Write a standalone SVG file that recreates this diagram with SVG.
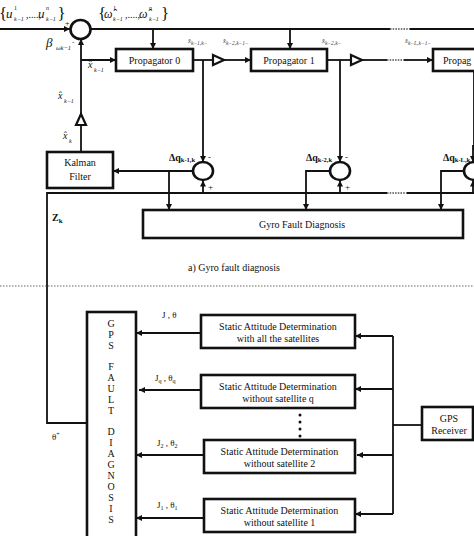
<svg xmlns="http://www.w3.org/2000/svg" width="474" height="536" viewBox="0 0 474 536">
<style>
text{font-family:"Liberation Serif","Times New Roman",serif;fill:#111}
.box{fill:#fff;stroke:#111;stroke-width:2.6}
.ln{fill:none;stroke:#111;stroke-width:1.8}
.arr{fill:none;stroke:#111;stroke-width:1.8;marker-end:url(#ah)}
.dot{fill:none;stroke:#777;stroke-width:1.8;stroke-dasharray:1.5,1.2}
.tri{fill:#fff;stroke:#111;stroke-width:2.2}
.lbl{font-size:10px;text-anchor:middle}
.mi{font-style:italic}
.sm{font-size:6px}
.tiny{font-size:6.5px;fill:#444}
.b{font-weight:bold}
</style>
<defs>
<marker id="ah" viewBox="0 0 10 10" refX="10" refY="5" markerWidth="7" markerHeight="6" markerUnits="userSpaceOnUse" orient="auto">
<path d="M0,0L10,5L0,10z" fill="#111"/>
</marker>
</defs>

<g id="connectors">
<line class="arr" x1="0" y1="29" x2="70" y2="29"/>
<line class="ln" x1="90" y1="29" x2="390" y2="29"/>
<line class="dot" x1="390" y1="29" x2="410" y2="29"/>
<line class="ln" x1="410" y1="29" x2="474" y2="29"/>
<line class="arr" x1="153" y1="29" x2="153" y2="49"/>
<line class="arr" x1="290" y1="29" x2="290" y2="49"/>
<line class="ln" x1="193" y1="60" x2="213" y2="60"/>
<line class="arr" x1="224" y1="60" x2="251" y2="60"/>
<line class="arr" x1="203" y1="60" x2="203" y2="162"/>
<line class="ln" x1="327" y1="60" x2="351" y2="60"/>
<line class="ln" x1="362" y1="60" x2="387" y2="60"/>
<line class="dot" x1="387" y1="60" x2="404" y2="60"/>
<line class="arr" x1="404" y1="60" x2="433" y2="60"/>
<line class="arr" x1="340" y1="60" x2="340" y2="162"/>
<line class="ln" x1="474" y1="71" x2="474" y2="150"/>
<line class="arr" x1="473" y1="145" x2="473" y2="162"/>
<line class="ln" x1="81" y1="152" x2="81" y2="125"/>
<line class="arr" x1="81" y1="114" x2="81" y2="39"/>
<line class="arr" x1="81" y1="60" x2="116" y2="60"/>
<line class="arr" x1="193" y1="171" x2="113" y2="171"/>
<line class="arr" x1="169" y1="171" x2="169" y2="210"/>
<polyline class="arr" points="330,171 306,171 306,210"/>
<polyline class="arr" points="463,171 441,171 441,210"/>
<polyline class="ln" points="87,423 47,423 47,193 387,193"/>
<line class="dot" x1="387" y1="193" x2="407" y2="193"/>
<line class="ln" x1="407" y1="193" x2="474" y2="193"/>
<line class="arr" x1="203" y1="193" x2="203" y2="180.5"/>
<line class="arr" x1="340" y1="193" x2="340" y2="180.5"/>
<line class="arr" x1="473" y1="193" x2="473" y2="180.5"/>
<line class="arr" x1="201" y1="333" x2="136" y2="333"/>
<line class="arr" x1="201" y1="390" x2="139" y2="390"/>
<line class="arr" x1="204" y1="455" x2="136" y2="455"/>
<line class="arr" x1="204" y1="518" x2="136" y2="518"/>
<line class="ln" x1="422" y1="425" x2="393" y2="425"/>
<line class="ln" x1="393" y1="336" x2="393" y2="514"/>
<line class="arr" x1="393" y1="336" x2="355" y2="336"/>
<line class="arr" x1="393" y1="389" x2="355" y2="389"/>
<line class="arr" x1="393" y1="455" x2="357" y2="455"/>
<line class="arr" x1="393" y1="514" x2="355" y2="514"/>
<polygon class="tri" points="213,55 224,60 213,65"/>
<polygon class="tri" points="351,55 362,60 351,65"/>
<polygon class="tri" points="76,125 81,114 86,125"/>
<line x1="0" y1="286" x2="474" y2="286" stroke="#666" stroke-width="1.2" stroke-dasharray="1.5,1.5"/>
</g>

<g id="sum0"><ellipse class="box" cx="80.5" cy="29.5" rx="10" ry="9.5"/><text x="65" y="26" font-size="8">+</text></g>
<g id="sum1"><ellipse class="box" cx="203" cy="171" rx="10" ry="9"/><text x="208" y="160" font-size="9">-</text><text x="208" y="190" font-size="9">+</text></g>
<g id="sum2"><ellipse class="box" cx="340" cy="171" rx="10" ry="9"/><text x="345" y="160" font-size="9">-</text><text x="345" y="190" font-size="9">+</text></g>
<g id="sum3"><ellipse class="box" cx="474" cy="171" rx="10" ry="9"/></g>

<g id="prop0"><rect class="box" x="116" y="49" width="77" height="22"/><text class="lbl" x="154.5" y="64">Propagator 0</text></g>
<g id="prop1"><rect class="box" x="251" y="49" width="76" height="22"/><text class="lbl" x="289" y="64">Propagator 1</text></g>
<g id="prop2"><rect class="box" x="433" y="49" width="60" height="22"/><text x="443" y="64" font-size="10">Propag</text></g>
<g id="kalman"><rect class="box" x="47" y="152" width="66" height="36"/><text class="lbl" x="80" y="166">Kalman</text><text class="lbl" x="80" y="180">Filter</text></g>
<g id="gyrofd"><rect class="box" x="143" y="210" width="320" height="28"/><text class="lbl" x="302" y="228">Gyro Fault Diagnosis</text></g>

<g id="gpsfd"><rect class="box" x="87" y="312" width="49" height="240"/>
<g font-size="10" text-anchor="middle">
<text x="111" y="327">G</text><text x="111" y="338">P</text><text x="111" y="349">S</text>
<text x="111" y="370">F</text><text x="111" y="381">A</text><text x="111" y="392">U</text><text x="111" y="403">L</text><text x="111" y="414">T</text>
<text x="111" y="435">D</text><text x="111" y="446">I</text><text x="111" y="457">A</text><text x="111" y="468">G</text><text x="111" y="479">N</text><text x="111" y="490">O</text><text x="111" y="501">S</text><text x="111" y="512">I</text><text x="111" y="523">S</text>
</g></g>
<g id="sad1"><rect class="box" x="201" y="315" width="154" height="33"/><text class="lbl" x="278" y="330">Static Attitude Determination</text><text class="lbl" x="278" y="342">with all the satellites</text></g>
<g id="sadq"><rect class="box" x="201" y="375" width="154" height="33"/><text class="lbl" x="278" y="390">Static Attitude Determination</text><text class="lbl" x="278" y="402">without satellite q</text></g>
<g id="sad2"><rect class="box" x="204" y="440" width="151" height="33"/><text class="lbl" x="279.5" y="455">Static Attitude Determination</text><text class="lbl" x="279.5" y="467">without satellite 2</text></g>
<g id="sad1b"><rect class="box" x="204" y="499" width="151" height="33"/><text class="lbl" x="279.5" y="514">Static Attitude Determination</text><text class="lbl" x="279.5" y="526">without satellite 1</text></g>
<g id="gpsrx"><rect class="box" x="422" y="407" width="51" height="33"/><text class="lbl" x="449" y="422">GPS</text><text class="lbl" x="449" y="434">Receiver</text></g>
<g id="dots" fill="#111"><circle cx="300" cy="415" r="1.5"/><circle cx="300" cy="422" r="1.5"/><circle cx="300" cy="429" r="1.5"/><circle cx="300" cy="436" r="1.5"/></g>

<g id="labels">
<text><tspan x="-1" y="19" font-size="17">{</tspan><tspan class="mi" x="6" y="18" font-size="13">u</tspan><tspan class="sm" x="14" y="10">1</tspan><tspan class="sm mi" x="14" y="21">k−1</tspan><tspan x="26" y="18" font-size="10">,....,</tspan><tspan class="mi" x="38" y="18" font-size="13">u</tspan><tspan class="sm mi" x="46" y="10">n</tspan><tspan class="sm mi" x="46" y="21">k−1</tspan><tspan x="57.5" y="19" font-size="17">}</tspan></text>

<text><tspan x="98" y="19" font-size="17">{</tspan><tspan class="mi" x="104" y="18" font-size="12">ω̂</tspan><tspan class="sm" x="113" y="10">1</tspan><tspan class="sm mi" x="113" y="21">k−1</tspan><tspan x="125" y="18" font-size="10">,....,</tspan><tspan class="mi" x="139" y="18" font-size="12">ω̂</tspan><tspan class="sm mi" x="149" y="10">n</tspan><tspan class="sm mi" x="149" y="21">k−1</tspan><tspan x="161" y="19" font-size="17">}</tspan></text>

<text class="mi" x="46" y="47" font-size="13">β<tspan font-size="6.5" x="56" y="50">ωk−1</tspan><tspan font-style="normal" font-size="7" x="72" y="44">-</tspan></text>

<text class="mi" x="88" y="68" font-size="10">x̂<tspan class="sm" x="94" y="72">k−1</tspan></text>
<text class="mi" x="58" y="99" font-size="10">x̂<tspan class="sm" x="64" y="103">k−1</tspan></text>
<text class="mi" x="63" y="139" font-size="10">x̂<tspan class="sm" x="69" y="143">k</tspan></text>

<text class="tiny mi" x="188" y="43">x̂<tspan font-size="5.5" dy="1.5">k−1,k−</tspan></text>
<text class="tiny mi" x="223" y="43">x̂<tspan font-size="5.5" dy="1.5">k−2,k−1−</tspan></text>
<text class="tiny mi" x="322" y="43">x̂<tspan font-size="5.5" dy="1.5">k−2,k−</tspan></text>
<text class="tiny mi" x="405" y="43">x̂<tspan font-size="5.5" dy="1.5">k−L,k−1−</tspan></text>

<text class="b" x="169" y="161" font-size="10">Δq<tspan font-size="6.5" dy="1">k-1,k</tspan></text>
<text class="b" x="306" y="161" font-size="10">Δq<tspan font-size="6.5" dy="1">k-2,k</tspan></text>
<text class="b" x="443" y="161" font-size="10">Δq<tspan font-size="6.5" dy="1">k-L,k</tspan></text>

<text class="b" x="52" y="221" font-size="10">Z<tspan font-size="7" dy="2">k</tspan></text>
<text x="188" y="271" font-size="10">a) Gyro fault diagnosis</text>

<text x="162" y="318" font-size="9">J , θ</text>
<text x="155" y="381" font-size="9">J<tspan font-size="6" dy="2">q</tspan><tspan dy="-2"> , θ</tspan><tspan font-size="6" dy="2">q</tspan></text>
<text x="157" y="446" font-size="9">J<tspan font-size="6" dy="2">2</tspan><tspan dy="-2"> , θ</tspan><tspan font-size="6" dy="2">2</tspan></text>
<text x="157" y="508" font-size="9">J<tspan font-size="6" dy="2">1</tspan><tspan dy="-2"> , θ</tspan><tspan font-size="6" dy="2">1</tspan></text>
<text x="52" y="440" font-size="9">θ<tspan font-size="6" dy="-4">+</tspan></text>
</g>
</svg>
